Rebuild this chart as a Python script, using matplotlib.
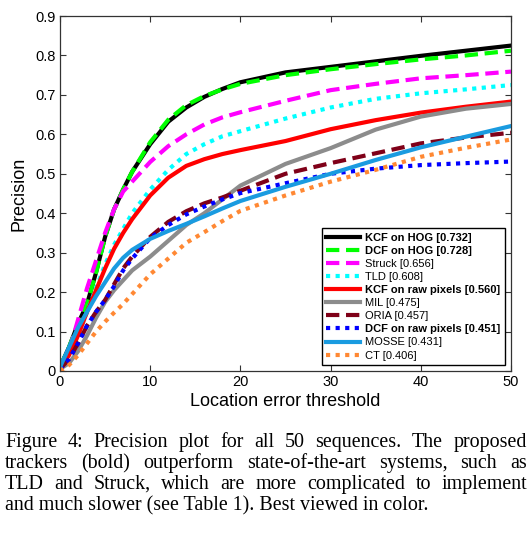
import matplotlib
matplotlib.use('Agg')
import matplotlib.pyplot as plt

plt.rcParams['font.family'] = ['Liberation Sans', 'DejaVu Sans']

thresholds = [0, 1, 2, 3, 4, 5, 6, 7, 8, 10, 12, 14, 16, 18, 20, 25, 30, 35, 40, 45, 50]

kcf_hog    = [0.01, 0.06, 0.12, 0.17, 0.25, 0.34, 0.41, 0.46, 0.505, 0.575, 0.632, 0.668, 0.695, 0.715, 0.732, 0.757, 0.771, 0.785, 0.799, 0.812, 0.825]
dcf_hog    = [0.01, 0.06, 0.12, 0.17, 0.25, 0.34, 0.41, 0.46, 0.505, 0.58, 0.637, 0.674, 0.697, 0.714, 0.728, 0.75, 0.765, 0.778, 0.79, 0.80, 0.812]
struck     = [0.01, 0.05, 0.13, 0.21, 0.28, 0.35, 0.41, 0.455, 0.48, 0.53, 0.57, 0.60, 0.625, 0.643, 0.656, 0.685, 0.712, 0.728, 0.742, 0.75, 0.759]
tld        = [0.01, 0.04, 0.09, 0.15, 0.21, 0.27, 0.32, 0.36, 0.40, 0.46, 0.51, 0.55, 0.575, 0.595, 0.608, 0.64, 0.668, 0.69, 0.704, 0.714, 0.725]
kcf_raw    = [0.01, 0.04, 0.09, 0.15, 0.205, 0.26, 0.31, 0.35, 0.385, 0.445, 0.49, 0.52, 0.537, 0.55, 0.56, 0.583, 0.613, 0.636, 0.655, 0.67, 0.683]
mil        = [0.005, 0.02, 0.05, 0.09, 0.135, 0.175, 0.205, 0.23, 0.255, 0.29, 0.33, 0.37, 0.40, 0.435, 0.47, 0.525, 0.565, 0.612, 0.645, 0.665, 0.677]
oria       = [0.005, 0.03, 0.07, 0.115, 0.15, 0.18, 0.22, 0.26, 0.29, 0.34, 0.378, 0.405, 0.425, 0.44, 0.457, 0.50, 0.527, 0.552, 0.577, 0.592, 0.604]
dcf_raw    = [0.005, 0.03, 0.07, 0.115, 0.15, 0.18, 0.215, 0.255, 0.285, 0.337, 0.37, 0.397, 0.417, 0.435, 0.451, 0.476, 0.50, 0.513, 0.522, 0.527, 0.531]
mosse      = [0.01, 0.06, 0.11, 0.15, 0.19, 0.225, 0.26, 0.287, 0.307, 0.335, 0.355, 0.373, 0.392, 0.412, 0.431, 0.467, 0.50, 0.535, 0.567, 0.594, 0.621]
ct         = [0.0, 0.015, 0.04, 0.07, 0.10, 0.125, 0.148, 0.17, 0.195, 0.245, 0.285, 0.325, 0.352, 0.38, 0.406, 0.445, 0.48, 0.51, 0.543, 0.566, 0.587]

labels = ['KCF on HOG [0.732]', 'DCF on HOG [0.728]', 'Struck [0.656]', 'TLD [0.608]',
          'KCF on raw pixels [0.560]', 'MIL [0.475]', 'ORIA [0.457]',
          'DCF on raw pixels [0.451]', 'MOSSE [0.431]', 'CT [0.406]']
series = [kcf_hog, dcf_hog, struck, tld, kcf_raw, mil, oria, dcf_raw, mosse, ct]

colors = ['black', '#00ff00', '#ff00ff', '#00ffff', '#ff0000', '#8c8c8c',
          '#7f0018', '#0000ff', '#1a9be0', '#ff8833']
solid = None
dashed = (3.2, 1.6)
dotted = (1, 1.3)
dashes = [solid, dashed, dashed, dotted, solid, solid, dashed, dotted, solid, dotted]

caption = ['Figure 4: Precision plot for all 50 sequences. The proposed',
           'trackers (bold) outperform state-of-the-art systems, such as',
           'TLD and Struck, which are more complicated to implement',
           'and much slower (see Table 1). Best viewed in color.']

W, H = 532, 544
fig = plt.figure(figsize=(W / 100, H / 100), dpi=100)
ax = fig.add_axes([60 / W, 173 / H, 451 / W, 355 / H])

for ys, lab, c, d in zip(series, labels, colors, dashes):
    line, = ax.plot(thresholds, ys, color=c, lw=3, label=lab)
    if d is not None:
        line.set_dashes(d)
        line.set_dash_capstyle('butt')

ax.set_xlim(0, 50)
ax.set_ylim(0, 0.9)
ax.set_xticks(range(0, 51, 10))
ax.set_xticklabels(['0', '10', '20', '30', '40', '50'])
ax.set_yticks([i / 10 for i in range(10)])
ax.set_yticklabels(['0'] + ['0.%d' % i for i in range(1, 10)])
ax.tick_params(direction='in', length=4, width=0.8, top=True, right=True,
               labelsize=10.5, color='#333333', pad=3)
for s in ax.spines.values():
    s.set_color('#333333')
    s.set_linewidth(0.9)
ax.set_xlabel('Location error threshold', fontsize=13, labelpad=3)
ax.set_ylabel('Precision', fontsize=13, labelpad=6)

leg = ax.legend(loc='lower right', bbox_to_anchor=(0.987, 0.017), borderaxespad=0,
                fontsize=8, fancybox=False, framealpha=1, edgecolor='black',
                handlelength=3.1, handletextpad=0.45, labelspacing=0.28, borderpad=0.4)
leg.get_frame().set_linewidth(1.0)
for t in leg.get_texts():
    if 'KCF' in t.get_text() or 'DCF' in t.get_text():
        t.set_fontweight('bold')

# caption, justified like the paper text
cap_font = 'Liberation Serif'
renderer = fig.canvas.get_renderer()


def text_width(s, size):
    t = fig.text(0, 0, s, fontsize=size, family=cap_font)
    w = t.get_window_extent(renderer).width
    t.remove()
    return w


cap_size = 12 * 422 / text_width(caption[-1], 12)
left, right = 5, 527
baselines = [447, 468, 489, 510]
for i, (line_txt, base) in enumerate(zip(caption, baselines)):
    yy = 1 - base / H
    if i == len(caption) - 1:
        fig.text(left / W, yy, line_txt, fontsize=cap_size, family=cap_font, va='baseline')
        continue
    words = line_txt.split()
    widths = [text_width(w, cap_size) for w in words]
    gap = (right - left - sum(widths)) / (len(words) - 1)
    x = left
    for w, wd in zip(words, widths):
        fig.text(x / W, yy, w, fontsize=cap_size, family=cap_font, va='baseline')
        x += wd + gap

fig.savefig('out.png', dpi=100)
